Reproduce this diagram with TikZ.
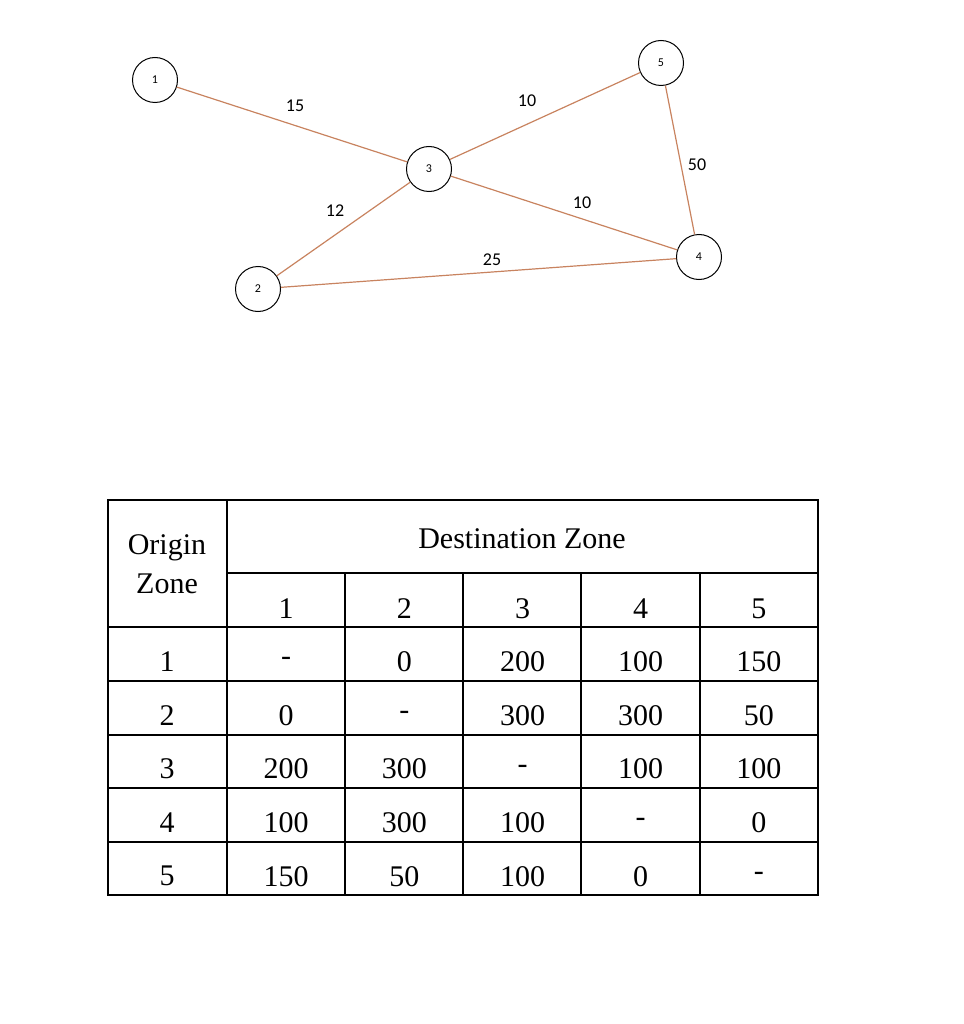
\documentclass[tikz,border=0pt]{standalone}
\usepackage{fontspec}
\setmainfont{Liberation Serif}
\newfontfamily\lab{Carlito}
\definecolor{edge}{HTML}{C8835F}
\begin{document}
\begin{tikzpicture}[x=1pt,y=-1pt,
 zone/.style={circle,draw,line width=1pt,minimum size=45pt,inner sep=0pt,font=\lab\fontsize{12}{12}\selectfont},
 link/.style={edge,line width=1.2pt},
 wt/.style={font=\lab\fontsize{18}{18}\selectfont},
 cell/.style={font=\fontsize{30}{30}\selectfont}]
\useasboundingbox (0,0) rectangle (963,1024);
\node[zone] (n1) at (155,80) {1};
\node[zone] (n2) at (258,289) {2};
\node[zone] (n3) at (429,169) {3};
\node[zone] (n4) at (699,257) {4};
\node[zone] (n5) at (661,63) {5};
\draw[link] (n1)--(n3); \draw[link] (n3)--(n5); \draw[link] (n5)--(n4);
\draw[link] (n2)--(n3); \draw[link] (n3)--(n4); \draw[link] (n2)--(n4);
\node[wt] (w1) at (295,106) {15};
\node[wt] (w2) at (527,101) {10};
\node[wt] (w3) at (697,165) {50};
\node[wt] (w4) at (335,211) {12};
\node[wt] (w5) at (582,203) {10};
\node[wt] (w6) at (492,260) {25};
% table
\draw[line width=1.5pt] (108,500) rectangle (818,895);
\draw[line width=1.3pt] (227,500)--(227,895) (227,573)--(818,573) (108,627)--(818,627);
\foreach \x in {345,463,581,700} \draw[line width=1.3pt] (\x,573)--(\x,895);
\foreach \y in {681,735,788,842} \draw[line width=1.3pt] (108,\y)--(818,\y);
\node[cell] (dz) at (522,539) {Destination Zone};
\node[cell] (oz1) at (167,548) {Origin};
\node[cell] (oz2) at (167,584) {Zone};
\foreach \c [count=\i] in {1,2,3,4,5} \node[cell] (h\i) at ({227+118.2*(\i-0.5)},609) {\c};
\foreach \r [count=\j] in {{-,0,200,100,150},{0,-,300,300,50},{200,300,-,100,100},{100,300,100,-,0},{150,50,100,0,-}}{
 \node[cell] (r\j) at (167,{635+53.6*(\j-0.5)}) {\j};
 \foreach \v [count=\i] in \r \node[cell] (c\j\i) at ({227+118.2*(\i-0.5)},{635+53.6*(\j-0.5)}) {\v};
}
\end{tikzpicture}
\end{document}
